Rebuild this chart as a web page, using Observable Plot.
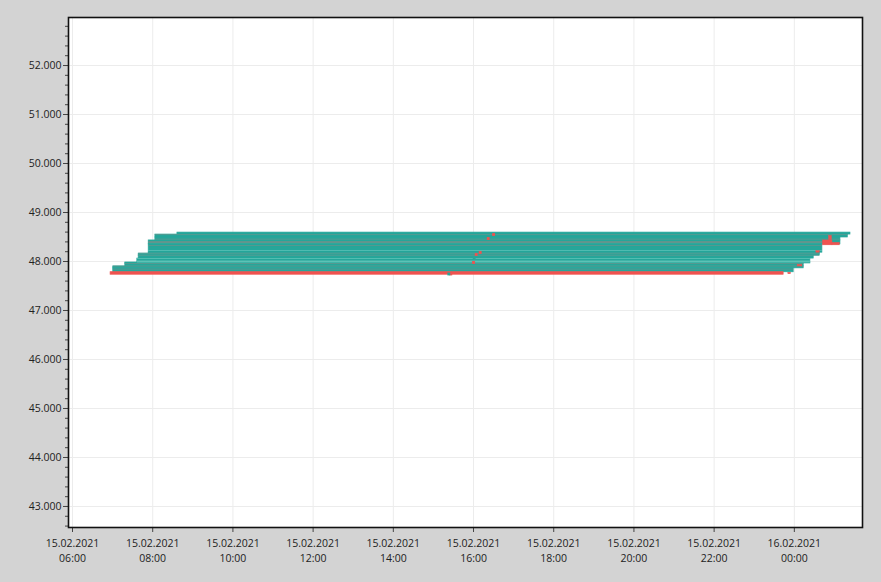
<!DOCTYPE html>
<html>
<head>
<meta charset="utf-8">
<script src="https://cdn.jsdelivr.net/npm/d3@7"></script>
<script src="https://cdn.jsdelivr.net/npm/@observablehq/plot@0.6"></script>
<style>
  html, body { margin: 0; padding: 0; background: #d3d3d3; }
</style>
</head>
<body>
<div id="chart"></div>
<script>
// ---- data ----
const blockLow   = [48550, 48490, 48430, 48350, 48180, 48160, 48120, 48060, 47980, 47960, 47900, 47860, 47780, 47730];
const blockHigh  = [48590, 48550, 48490, 48430, 48350, 48180, 48160, 48120, 48060, 47980, 47960, 47900, 47860, 47782];
const blockStart = ["2021-02-15T08:37Z","2021-02-15T08:04Z","2021-02-15T08:04Z","2021-02-15T07:54Z","2021-02-15T07:54Z","2021-02-15T07:54Z","2021-02-15T07:39Z","2021-02-15T07:39Z","2021-02-15T07:37Z","2021-02-15T07:19Z","2021-02-15T07:19Z","2021-02-15T07:01Z","2021-02-15T07:01Z","2021-02-15T06:57Z"];
const blockEnd   = ["2021-02-16T01:24Z","2021-02-16T01:20Z","2021-02-16T01:09Z","2021-02-16T01:09Z","2021-02-16T00:42Z","2021-02-16T00:38Z","2021-02-16T00:38Z","2021-02-16T00:29Z","2021-02-16T00:24Z","2021-02-16T00:24Z","2021-02-16T00:14Z","2021-02-16T00:14Z","2021-02-15T23:59Z","2021-02-15T23:44Z"];
const blockKind  = ["up","up","up","up","up","up","up","up","up","up","up","up","up","down"];

// thin stripes inside the body
const stripeLow   = [48530, 48440, 48367, 48306, 48204, 48153, 48112, 48041, 47970, 47939, 47888, 47827];
const stripeHigh  = [48545, 48455, 48408, 48322, 48220, 48168, 48128, 48058, 48010, 47955, 47904, 47843];
const stripeStart = ["2021-02-15T08:04Z","2021-02-15T08:04Z","2021-02-15T07:54Z","2021-02-15T07:54Z","2021-02-15T07:54Z","2021-02-15T07:39Z","2021-02-15T07:39Z","2021-02-15T07:37Z","2021-02-15T07:37Z","2021-02-15T07:19Z","2021-02-15T07:01Z","2021-02-15T07:01Z"];
const stripeEnd   = ["2021-02-16T01:20Z","2021-02-16T01:09Z","2021-02-16T00:43Z","2021-02-16T00:42Z","2021-02-16T00:42Z","2021-02-16T00:38Z","2021-02-16T00:38Z","2021-02-16T00:24Z","2021-02-16T00:24Z","2021-02-16T00:14Z","2021-02-16T00:14Z","2021-02-15T23:59Z"];
const stripeKind  = ["gray","gray","gray","gray","light","gray","gray","light","light","gray","gray","gray"];

// red patches near the right end
const patchLow   = [48330, 48330, 48440, 48180, 47900, 47740];
const patchHigh  = [48430, 48380, 48520, 48210, 47930, 47770];
const patchStart = ["2021-02-16T00:43Z","2021-02-16T00:57Z","2021-02-16T00:52Z","2021-02-16T00:33Z","2021-02-16T00:05Z","2021-02-15T23:51Z"];
const patchEnd   = ["2021-02-16T00:57Z","2021-02-16T01:08Z","2021-02-16T00:56Z","2021-02-16T00:38Z","2021-02-16T00:12Z","2021-02-15T23:55Z"];

// scattered marks in the middle
const traceTime  = ["2021-02-15T16:30Z","2021-02-15T16:22Z","2021-02-15T16:10Z","2021-02-15T16:04Z","2021-02-15T16:00Z","2021-02-15T15:26Z","2021-02-15T16:01Z","2021-02-15T15:23Z"];
const tracePrice = [48551, 48469, 48184, 48143, 47980, 47745, 48061, 47745];
const traceKind  = ["down","down","down","down","down","down","up","up"];

const xTicks = ["2021-02-15T06:00Z","2021-02-15T08:00Z","2021-02-15T10:00Z","2021-02-15T12:00Z","2021-02-15T14:00Z","2021-02-15T16:00Z","2021-02-15T18:00Z","2021-02-15T20:00Z","2021-02-15T22:00Z","2021-02-16T00:00Z"].map(s => new Date(s));
const yTicks = [43000, 44000, 45000, 46000, 47000, 48000, 49000, 50000, 51000, 52000];
const yMinor = d3.range(42600, 52900, 200);

const colors = {up: "#26a69a", down: "#ef5350", gray: "#61968e", light: "#5cc2b6"};

const blocks  = blockLow.map((d, i) => ({lo: d, hi: blockHigh[i], t1: new Date(blockStart[i]), t2: new Date(blockEnd[i]), k: blockKind[i]}));
const stripes = stripeLow.map((d, i) => ({lo: d, hi: stripeHigh[i], t1: new Date(stripeStart[i]), t2: new Date(stripeEnd[i]), k: stripeKind[i]}));
const patches = patchLow.map((d, i) => ({lo: d, hi: patchHigh[i], t1: new Date(patchStart[i]), t2: new Date(patchEnd[i]), k: "down"}));
const trace   = traceTime.map((d, i) => ({t: new Date(d), p: tracePrice[i], k: traceKind[i]}));

const fmtY = d3.formatLocale({decimal: ",", thousands: ".", grouping: [3], currency: ["", ""]}).format(",.0f");
const fmtD = d3.utcFormat("%d.%m.%Y");
const fmtH = d3.utcFormat("%H:%M");

const fillK = d => colors[d.k];

const chart = Plot.plot({
  width: 881,
  height: 582,
  marginLeft: 68,
  marginRight: 19,
  marginTop: 17,
  marginBottom: 55,
  style: {background: "#d3d3d3", fontFamily: "'Open Sans', sans-serif", fontSize: "10.5px", color: "#222"},
  x: {type: "utc", domain: [new Date("2021-02-15T05:54Z"), new Date("2021-02-16T01:42Z")]},
  y: {domain: [42571, 52980]},
  marks: [
    Plot.frame({fill: "white"}),
    Plot.gridX(xTicks, {stroke: "#ececec", strokeOpacity: 1}),
    Plot.gridY(yTicks, {stroke: "#ececec", strokeOpacity: 1}),
    Plot.rect(blocks, {x1: "t1", x2: "t2", y1: "lo", y2: "hi", fill: fillK, stroke: fillK, strokeWidth: 0.7}),
    Plot.rect(stripes, {x1: "t1", x2: "t2", y1: "lo", y2: "hi", fill: fillK}),
    Plot.rect(patches, {x1: "t1", x2: "t2", y1: "lo", y2: "hi", fill: fillK, stroke: fillK, strokeWidth: 0.5}),
    Plot.dot(trace, {x: "t", y: "p", r: 1.6, symbol: "square", fill: fillK, stroke: null}),
    Plot.axisY(yMinor, {tickSize: 3, tickFormat: () => "", stroke: "#444"}),
    Plot.axisY(yTicks, {tickSize: 5, tickPadding: 2, tickFormat: fmtY, stroke: "#444", fill: "#222"}),
    Plot.axisX(xTicks, {tickSize: 5, tickPadding: 3, tickFormat: d => fmtD(d) + "\n" + fmtH(d), lineHeight: 1.5, stroke: "#444", fill: "#222"}),
    Plot.frame({stroke: "#111", strokeWidth: 1.6})
  ]
});
document.getElementById("chart").appendChild(chart);
</script>
</body>
</html>
